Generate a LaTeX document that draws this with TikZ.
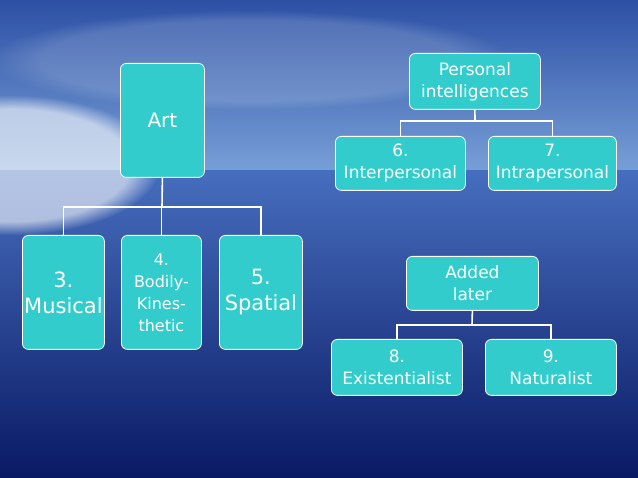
\documentclass[tikz,border=0pt]{standalone}
\usepackage{fontspec}
\setmainfont{DejaVu Sans}
\usetikzlibrary{fadings}
\definecolor{boxc}{HTML}{33CCCC}
\tikzset{
 box/.style={draw=white,line width=0.8pt,fill=boxc,rounded corners=6pt,text=white,align=center,inner sep=0pt,anchor=north west},
 small/.style={font=\fontsize{17}{22}\selectfont},
 big/.style={font=\fontsize{21}{26}\selectfont},
 conn/.style={draw=white,line width=1.6pt}
}
\begin{document}
\begin{tikzpicture}[x=1pt,y=-1pt]
\useasboundingbox (0,0) rectangle (638,478);
\shade[top color={rgb,255:red,45;green,80;blue,165},bottom color={rgb,255:red,120;green,160;blue,215}] (0,0) rectangle (638,172);
\shade[top color={rgb,255:red,70;green,110;blue,190},bottom color={rgb,255:red,10;green,25;blue,100}] (0,171) rectangle (638,478);
\fill[white,path fading=circle with fuzzy edge 20 percent,opacity=0.6] (10,165) ellipse (150 and 70);
\fill[white,path fading=circle with fuzzy edge 20 percent,opacity=0.15] (250,60) ellipse (260 and 50);
% left group
\node[box,minimum width=84,minimum height=114,font=\fontsize{20}{24}\selectfont] (art) at (120,63) {Art};
\node[box,big,minimum width=82,minimum height=114] (mus) at (22,235) {3.\\Musical};
\node[box,font=\fontsize{16}{22}\selectfont,minimum width=80,minimum height=114] (bod) at (121,235) {4.\\Bodily-\\Kines-\\thetic};
\node[box,big,minimum width=83,minimum height=114] (spa) at (219,235) {5.\\Spatial};
\coordinate (j1) at (162,207);
\draw[conn] (art.south) -- (j1);
\draw[conn] (mus.north) |- (j1) -| (spa.north);
\draw[conn] (bod.north) -- (bod.north |- j1);
% personal
\node[box,small,minimum width=131,minimum height=56] (per) at (409,53) {Personal\\intelligences};
\node[box,small,minimum width=130,minimum height=54] (inter) at (335,136) {6.\\Interpersonal};
\node[box,small,minimum width=128,minimum height=54] (intra) at (488,136) {7.\\Intrapersonal};
\coordinate (j2) at (475,121);
\draw[conn] (per.south) -- (j2);
\draw[conn] (inter.north) |- (j2) -| (intra.north);
% added later
\node[box,small,minimum width=132,minimum height=54] (add) at (406,256) {Added\\later};
\node[box,small,minimum width=131,minimum height=56] (exi) at (331,339) {8.\\Existentialist};
\node[box,small,minimum width=131,minimum height=56] (nat) at (485,339) {9.\\Naturalist};
\coordinate (j3) at (472,325);
\draw[conn] (add.south) -- (j3);
\draw[conn] (exi.north) |- (j3) -| (nat.north);
\end{tikzpicture}
\end{document}
